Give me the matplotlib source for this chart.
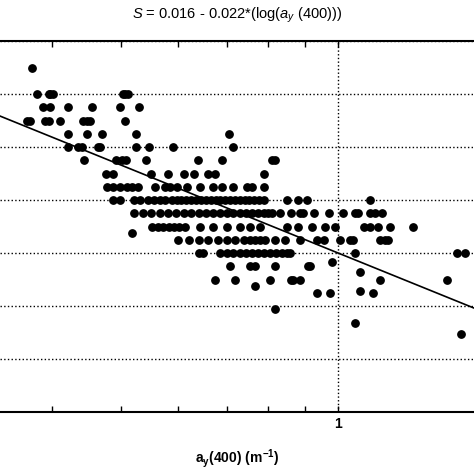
import numpy as np
import matplotlib
matplotlib.use("Agg")
import matplotlib.pyplot as plt

plt.rcParams['font.family'] = ['Liberation Sans', 'DejaVu Sans']
plt.rcParams['mathtext.fontset'] = 'custom'
plt.rcParams['mathtext.it'] = 'Liberation Sans:italic'
plt.rcParams['mathtext.rm'] = 'Liberation Sans'
plt.rcParams['mathtext.bf'] = 'Liberation Sans:bold'

# a_y(400) values grouped by slope S
rows = {
    0.030: [0.376],
    0.028: [0.382, 0.396, 0.398, 0.402, 0.503, 0.506, 0.511],
    0.027: [0.389, 0.398, 0.421, 0.455, 0.498, 0.529],
    0.026: [0.370, 0.373, 0.392, 0.396, 0.411, 0.442, 0.448, 0.452, 0.505],
    0.025: [0.422, 0.448, 0.470, 0.524, 0.706],
    0.024: [0.422, 0.435, 0.441, 0.464, 0.467, 0.524, 0.546, 0.590, 0.715],
    0.023: [0.444, 0.491, 0.501, 0.508, 0.541, 0.639, 0.690, 0.81, 0.818],
    0.022: [0.476, 0.487, 0.55, 0.58, 0.61, 0.63, 0.66, 0.675, 0.79],
    0.021: [0.478, 0.487, 0.498, 0.509, 0.518, 0.527, 0.557, 0.575, 0.584, 0.597,
            0.617, 0.643, 0.67, 0.69, 0.715, 0.747, 0.76, 0.79],
    0.020: [0.487, 0.498, 0.52, 0.53, 0.545, 0.555, 0.566, 0.575, 0.587, 0.597,
            0.605, 0.615, 0.625, 0.635, 0.645, 0.656, 0.666, 0.677, 0.686, 0.697,
            0.708, 0.719, 0.731, 0.743, 0.753, 0.765, 0.777, 0.79, 0.85, 0.88,
            0.905, 1.108],
    0.019: [0.52, 0.535, 0.55, 0.565, 0.58, 0.595, 0.61, 0.625, 0.64, 0.655,
            0.67, 0.685, 0.70, 0.715, 0.73, 0.745, 0.76, 0.775, 0.79, 0.80,
            0.81, 0.83, 0.86, 0.886, 0.895, 0.925, 0.97, 1.015, 1.056, 1.065,
            1.108, 1.126, 1.15],
    0.018: [0.552, 0.562, 0.572, 0.582, 0.592, 0.602, 0.612, 0.643, 0.67, 0.70,
            0.731, 0.755, 0.779, 0.85, 0.88, 0.92, 0.96, 0.99, 1.085, 1.108,
            1.135, 1.18, 1.27],
    0.017: [0.60, 0.62, 0.64, 0.66, 0.68, 0.70, 0.72, 0.74, 0.755, 0.767,
            0.779, 0.792, 0.818, 0.844, 0.886, 0.935, 0.955, 1.006, 1.039, 1.05,
            1.144, 1.162, 1.175],
    0.016: [0.64, 0.65, 0.686, 0.70, 0.715, 0.73, 0.745, 0.76, 0.775, 0.79,
            0.805, 0.82, 0.835, 0.85, 0.858, 1.056, 1.463, 1.50],
    0.015: [0.708, 0.755, 0.767, 0.818, 0.907, 0.915],
    0.014: [0.675, 0.719, 0.805, 0.86, 0.865, 0.885, 1.144, 1.417],
    0.013: [0.935, 0.975, 1.12],
}
# scattered points off the rows
extra_a = [0.518, 0.98, 1.073, 1.073, 0.767, 0.818, 1.056, 1.482]
extra_s = [0.0175, 0.0153, 0.0146, 0.0131, 0.0135, 0.0118, 0.0107, 0.0099]

a_vals = [a for s, lst in rows.items() for a in lst] + extra_a
s_vals = [s for s, lst in rows.items() for a in lst] + extra_s

fig = plt.figure(figsize=(4.74, 4.74), dpi=100)
ax = fig.add_axes([0, 1 - 412 / 474, 1, (412 - 41) / 474])
ax.set_xscale('log')
ax.set_xlim(0.339, 1.545)
ax.set_ylim(0.004, 0.032)

ax.scatter(a_vals, s_vals, s=28, color='black', zorder=3)
xl = np.array([0.339, 1.545])
ax.plot(xl, 0.016 - 0.022 * np.log10(xl), color='black', lw=1.2, zorder=4)

ax.set_yticks(np.arange(0.004, 0.0321, 0.004))
ax.set_xticks([1])
ax.set_xticklabels(['1'], fontweight='bold', fontsize=10)
ax.xaxis.set_minor_locator(matplotlib.ticker.LogLocator(subs=np.arange(2, 10)))
ax.xaxis.set_minor_formatter(matplotlib.ticker.NullFormatter())
ax.tick_params(axis='x', which='both', direction='in', top=True, length=4, width=1)
ax.tick_params(axis='y', left=False, labelleft=False)
ax.grid(True, axis='y', which='major', linestyle=':', color='black', lw=1)
ax.grid(True, axis='x', which='major', linestyle=':', color='black', lw=1)
ax.spines['left'].set_visible(False)
ax.spines['right'].set_visible(False)
ax.spines['top'].set_linewidth(1.5)
ax.spines['bottom'].set_linewidth(1.5)

fig.text(0.5, 1 - 15 / 474, r"$S$ = 0.016 - 0.022*(log($a_y$ (400)))",
         ha='center', va='center', fontsize=10.5)
ax.set_xlabel(r"$\mathbf{a}_\mathbf{y}$(400) (m$^{\mathbf{-1}}$)",
              fontweight='bold', fontsize=10, labelpad=12)

fig.savefig('out.png', dpi=100)
